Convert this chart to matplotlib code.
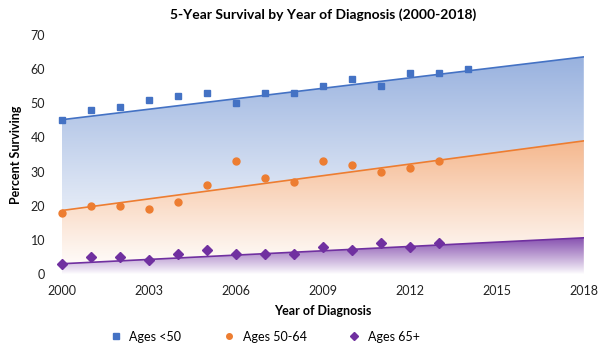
import numpy as np
import matplotlib
matplotlib.use("Agg")
import matplotlib.pyplot as plt
from matplotlib.colors import to_rgb
from matplotlib.patches import Polygon

plt.rcParams['font.family'] = ['Lato', 'DejaVu Sans']

# data
years_lt50 = np.arange(2000, 2015)
surv_lt50 = [45, 48, 49, 51, 52, 53, 50, 53, 53, 55, 57, 55, 59, 59, 60]
years_5064 = np.arange(2000, 2014)
surv_5064 = [18, 20, 20, 19, 21, 26, 33, 28, 27, 33, 32, 30, 31, 33]
years_65 = np.arange(2000, 2014)
surv_65 = [3, 5, 5, 4, 6, 7, 6, 6, 6, 8, 7, 9, 8, 9]

# trend lines as drawn in the chart (value at 2000, value at 2018)
trend_years = [2000, 2018]
trend_lt50 = [45.2, 63.6]
trend_5064 = [18.6, 39.0]
trend_65 = [3.0, 10.6]

labels = ['Ages <50', 'Ages 50-64', 'Ages 65+']
colors = ['#4472C4', '#ED7D31', '#7030A0']
markers = ['s', 'o', 'D']
msizes = [4.6, 5.0, 4.6]
xticks = [2000, 2003, 2006, 2009, 2012, 2015, 2018]
yticks = [0, 10, 20, 30, 40, 50, 60, 70]

fig = plt.figure(figsize=(6, 3.54), dpi=100)
ax = fig.add_axes([0.103, 0.226, 0.870, 0.675])

series = [(years_lt50, surv_lt50), (years_5064, surv_5064), (years_65, surv_65)]
trends = [trend_lt50, trend_5064, trend_65]

# gradient filled trend areas, drawn back to front
for i, ys in enumerate(trends):
    top = max(ys)
    c = np.array(to_rgb(colors[i]))
    n = 256
    t = np.linspace(0, 1, n)[:, None]  # 0 bottom -> 1 top
    strength = 0.55 * t ** 1.1 if i < 2 else 0.85 * t ** 0.9
    img = np.ones((n, 1, 3)) * (1 - strength[..., None]) + c * strength[..., None]
    im = ax.imshow(img, extent=[trend_years[0], trend_years[1], 0, top], origin='lower',
                   aspect='auto', zorder=1 + i, interpolation='bilinear')
    poly = Polygon([[trend_years[0], 0], [trend_years[0], ys[0]],
                    [trend_years[1], ys[1]], [trend_years[1], 0]],
                   closed=True, transform=ax.transData, facecolor='none', edgecolor='none')
    ax.add_patch(poly)
    im.set_clip_path(poly)
    ax.plot(trend_years, ys, color=colors[i], lw=1.2, zorder=5 + i)

for i, (yrs, vals) in enumerate(series):
    ax.plot(yrs, vals, linestyle='none', marker=markers[i], ms=msizes[i],
            color=colors[i], label=labels[i], zorder=10, clip_on=False)

ax.set_xlim(2000, 2018)
ax.set_ylim(0, 70)
ax.set_xticks(xticks)
ax.set_yticks(yticks)
ax.tick_params(length=0, labelsize=9, colors='#222222')
ax.tick_params(axis='x', pad=8)
ax.tick_params(axis='y', pad=12)
for s in ax.spines.values():
    s.set_visible(False)

ax.set_title('5-Year Survival by Year of Diagnosis (2000-2018)', fontsize=10,
             fontweight='bold', pad=12)
ax.set_xlabel('Year of Diagnosis', fontsize=9, fontweight='bold', labelpad=6)
ax.set_ylabel('Percent Surviving', fontsize=9, fontweight='bold', labelpad=6)

fig.legend(loc='lower center', bbox_to_anchor=(0.44, 0.0), ncol=3, frameon=False,
           fontsize=9, markerscale=0.8, columnspacing=3.2, handletextpad=0.5,
           handlelength=1.2)

fig.savefig('out.png', dpi=100)
